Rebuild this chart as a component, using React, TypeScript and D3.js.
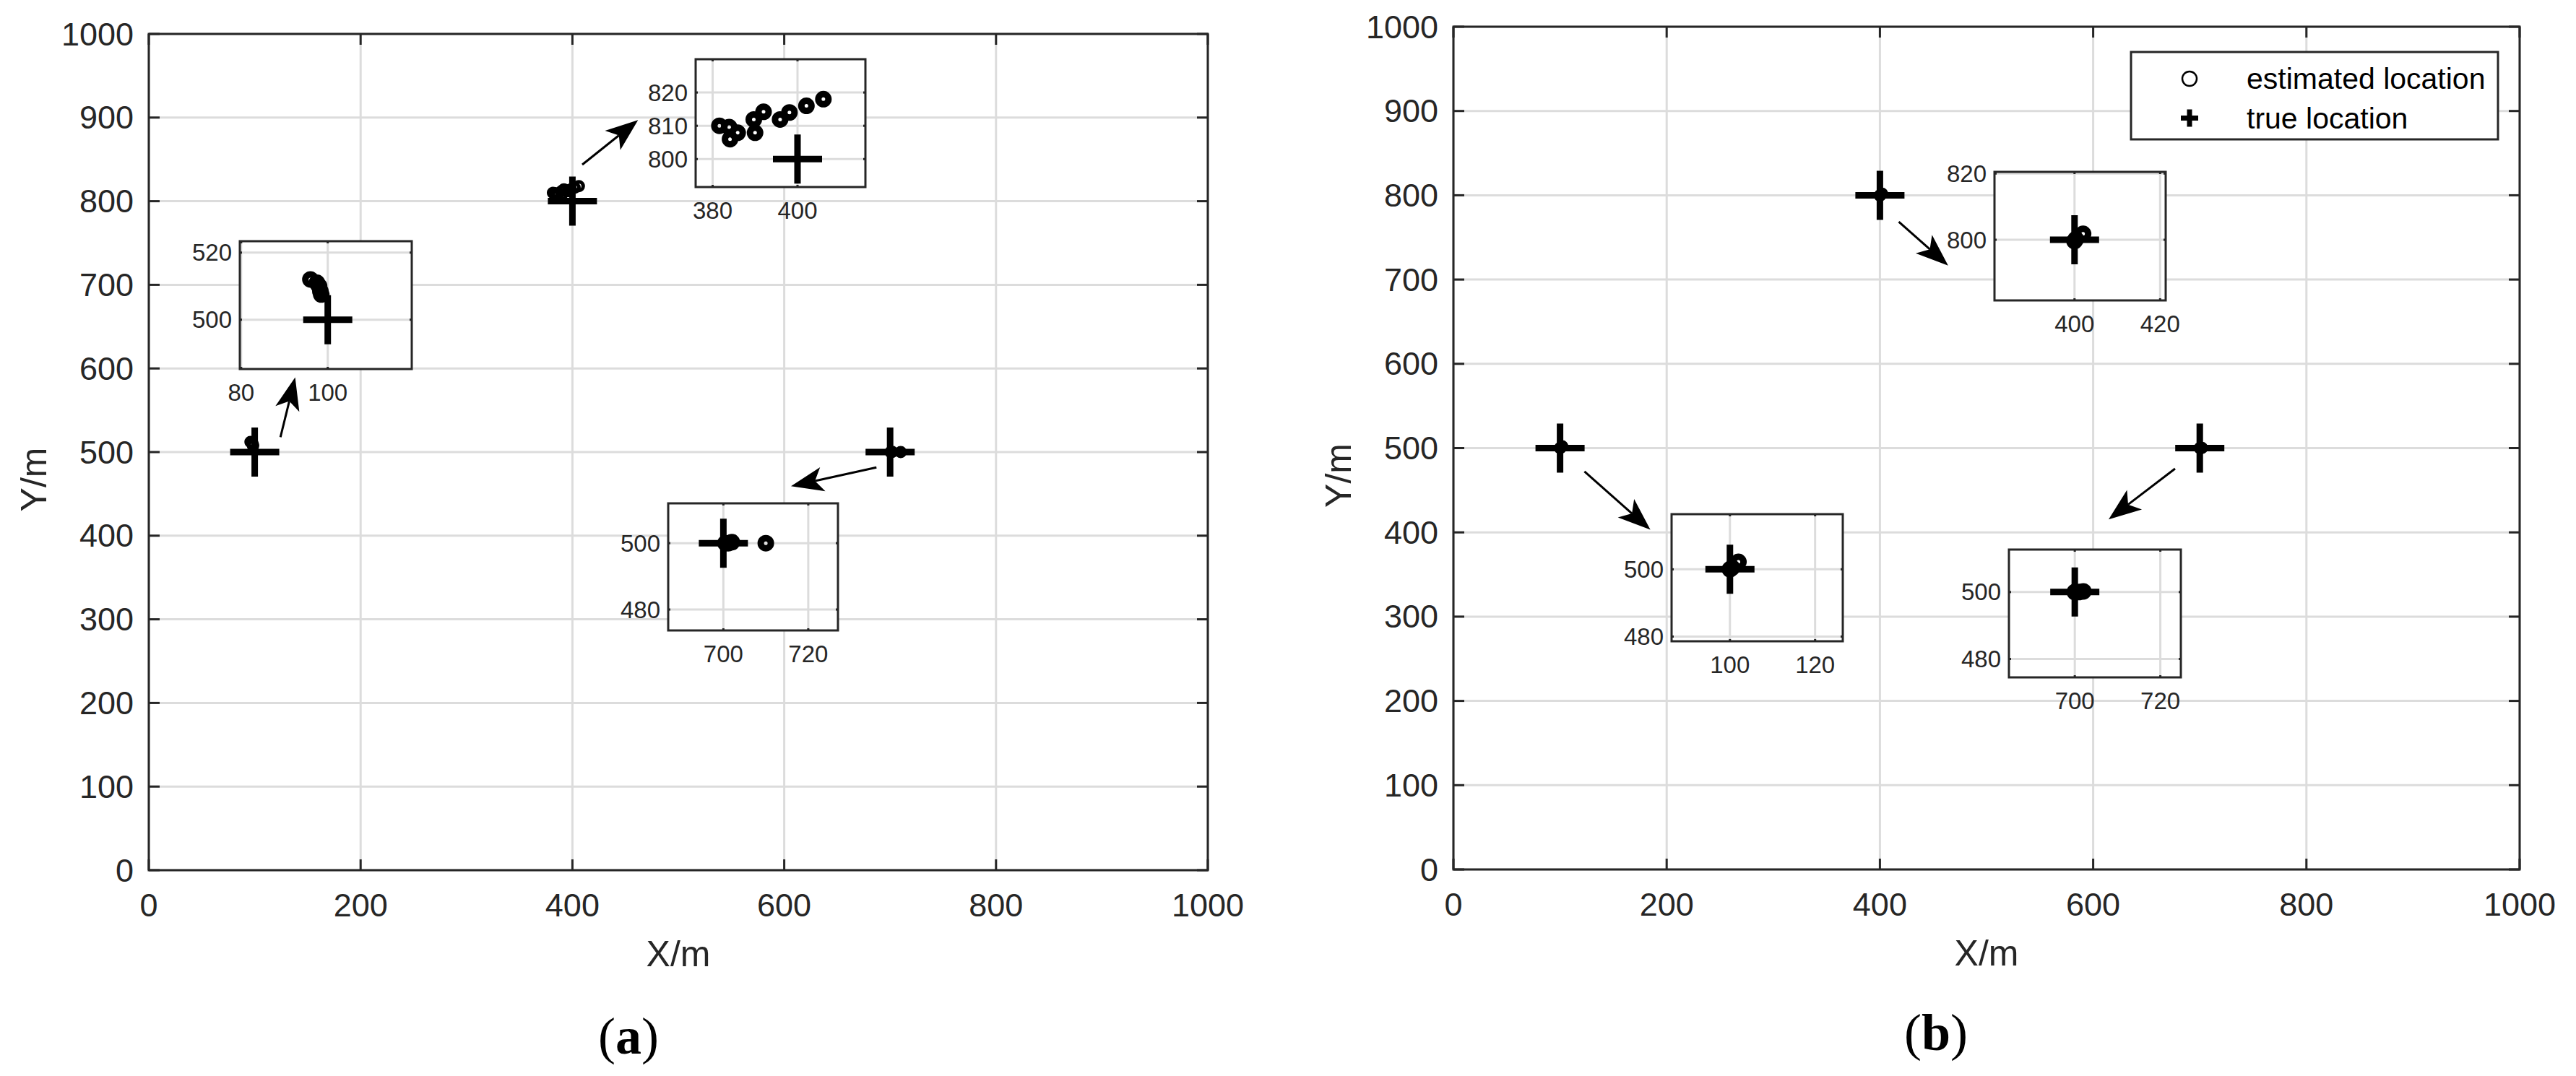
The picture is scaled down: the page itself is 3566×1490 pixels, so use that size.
import React, { useEffect, useRef } from 'react';
import * as d3 from 'd3';

const W = 3566;
const H = 1490;

// true source locations
const trueX = [100, 400, 700];
const trueY = [500, 800, 500];

// estimated locations, panel (a)
const estA1 = [[96, 512], [97.5, 511], [98, 510], [98.3, 508.5], [98.5, 507.5]];
const estA2 = [[381.6, 810], [383.9, 809.6], [384.1, 806], [385.9, 807.9], [390, 807.9], [389.7, 811.9], [392, 814.2], [395.9, 811.9], [398.1, 814], [402.1, 816], [406.1, 818]];
const estA3 = [[700.5, 500], [701.2, 500], [702, 500.3], [710, 500]];

// estimated locations, panel (b)
const estB1 = [[100, 500], [100.5, 500.5], [102, 502.2]];
const estB2 = [[400, 799.6], [400.3, 800.2], [402, 801.8]];
const estB3 = [[700, 500], [701, 500], [702, 500.2]];

// main axes ticks
const mainXTicks = [0, 200, 400, 600, 800, 1000];
const mainYTicks = [0, 100, 200, 300, 400, 500, 600, 700, 800, 900, 1000];

// zoomed inset limits and ticks
const insetA1 = { xDom: [376, 416], yDom: [791.6, 830], xt: [380, 400], yt: [800, 810, 820] };
const insetA2 = { xDom: [79.7, 119.4], yDom: [485.3, 523.4], xt: [80, 100], yt: [500, 520] };
const insetA3 = { xDom: [687, 727], yDom: [473.7, 512], xt: [700, 720], yt: [480, 500] };
const insetB1 = { xDom: [381.3, 421.3], yDom: [781.7, 820.5], xt: [400, 420], yt: [800, 820] };
const insetB2 = { xDom: [86.3, 126.5], yDom: [478.6, 516.4], xt: [100, 120], yt: [480, 500] };
const insetB3 = { xDom: [684.6, 724.8], yDom: [474.5, 512.7], xt: [700, 720], yt: [480, 500] };

// arrows, [x0, y0, x1, y1] in main-axes data units
const arrowsA = [[124.3, 517.9, 138.2, 589.3], [409.3, 843.7, 462, 897], [687.1, 481.6, 606.4, 459.1]];
const arrowsB = [[122.9, 472.2, 184.7, 403.1], [417.7, 768.6, 464, 716.5], [676.8, 475.6, 614.5, 415.3]];

const legendLabels = ['estimated location', 'true location'];

const AX = '#262626';
const GRID = '#dcdcdc';
const FONT = '"Liberation Sans", Arial, Helvetica, sans-serif';

function drawAxes(g, x, y, xTicks, yTicks, o) {
  const [x0, x1] = x.range();
  const [yb, yt] = y.range();
  g.append('rect').attr('x', x0).attr('y', yt).attr('width', x1 - x0).attr('height', yb - yt).attr('fill', '#fff');
  g.selectAll(null).data(xTicks).join('line')
    .attr('x1', d => x(d)).attr('x2', d => x(d)).attr('y1', yt).attr('y2', yb)
    .attr('stroke', GRID).attr('stroke-width', 3);
  g.selectAll(null).data(yTicks).join('line')
    .attr('x1', x0).attr('x2', x1).attr('y1', d => y(d)).attr('y2', d => y(d))
    .attr('stroke', GRID).attr('stroke-width', 3);

  const tl = o.tickLen;
  const tk = g.append('g').attr('stroke', AX).attr('stroke-width', 3);
  xTicks.forEach(d => {
    tk.append('line').attr('x1', x(d)).attr('x2', x(d)).attr('y1', yb).attr('y2', yb - tl);
    tk.append('line').attr('x1', x(d)).attr('x2', x(d)).attr('y1', yt).attr('y2', yt + tl);
  });
  yTicks.forEach(d => {
    tk.append('line').attr('x1', x0).attr('x2', x0 + tl).attr('y1', y(d)).attr('y2', y(d));
    tk.append('line').attr('x1', x1).attr('x2', x1 - tl).attr('y1', y(d)).attr('y2', y(d));
  });

  g.selectAll(null).data(xTicks).join('text')
    .attr('x', d => x(d)).attr('y', yb + o.xLabOff)
    .attr('text-anchor', 'middle').attr('dominant-baseline', 'central')
    .attr('font-family', FONT).attr('font-size', o.fs).attr('fill', AX)
    .text(d => d);
  g.selectAll(null).data(yTicks).join('text')
    .attr('x', x0 - o.yLabOff).attr('y', d => y(d))
    .attr('text-anchor', 'end').attr('dominant-baseline', 'central')
    .attr('font-family', FONT).attr('font-size', o.fs).attr('fill', AX)
    .text(d => d);
}

function drawMarks(g, x, y, est, tx, ty, o) {
  g.selectAll(null).data(est).join('circle')
    .attr('cx', d => x(d[0])).attr('cy', d => y(d[1])).attr('r', o.r)
    .attr('fill', 'none').attr('stroke', '#000').attr('stroke-width', o.sw);
  const s = 34;
  g.selectAll(null).data(tx).join('path')
    .attr('d', (d, i) => `M${x(d) - s},${y(ty[i])}H${x(d) + s}M${x(d)},${y(ty[i]) - s}V${y(ty[i]) + s}`)
    .attr('stroke', '#000').attr('stroke-width', 9).attr('fill', 'none');
}

function drawBox(g, x, y) {
  const [x0, x1] = x.range();
  const [yb, yt] = y.range();
  g.append('rect').attr('x', x0).attr('y', yt).attr('width', x1 - x0).attr('height', yb - yt)
    .attr('fill', 'none').attr('stroke', AX).attr('stroke-width', 3);
}

function drawArrow(g, x, y, a) {
  const px0 = x(a[0]), py0 = y(a[1]), px1 = x(a[2]), py1 = y(a[3]);
  const ang = Math.atan2(py1 - py0, px1 - px0);
  const ux = Math.cos(ang), uy = Math.sin(ang);
  const nx = -uy, ny = ux;
  const hl = 45, hw = 17, notch = 34;
  g.append('line').attr('x1', px0).attr('y1', py0)
    .attr('x2', px1 - ux * notch).attr('y2', py1 - uy * notch)
    .attr('stroke', '#000').attr('stroke-width', 3);
  const pts = [
    [px1, py1],
    [px1 - ux * hl + nx * hw, py1 - uy * hl + ny * hw],
    [px1 - ux * notch, py1 - uy * notch],
    [px1 - ux * hl - nx * hw, py1 - uy * hl - ny * hw],
  ];
  g.append('path').attr('d', 'M' + pts.map(p => p.join(',')).join('L') + 'Z').attr('fill', '#000');
}

function drawPanel(svg, rect, est, insets, arrows, caption, capPos) {
  const g = svg.append('g');
  const x = d3.scaleLinear().domain([0, 1000]).range([rect.x, rect.x + rect.w]);
  const y = d3.scaleLinear().domain([0, 1000]).range([rect.y + rect.h, rect.y]);
  drawAxes(g, x, y, mainXTicks, mainYTicks, { tickLen: 15, fs: 45, xLabOff: 48, yLabOff: 21 });
  est.forEach((e, i) => drawMarks(g, x, y, e, [trueX[i]], [trueY[i]], { r: 6, sw: 5 }));
  drawBox(g, x, y);

  g.append('text').attr('x', rect.x + rect.w / 2).attr('y', rect.y + rect.h + 116)
    .attr('text-anchor', 'middle').attr('dominant-baseline', 'central')
    .attr('font-family', FONT).attr('font-size', 50).attr('fill', AX).text('X/m');
  g.append('text').attr('transform', `translate(${rect.x - 159},${rect.y + rect.h / 2 + 38}) rotate(-90)`)
    .attr('text-anchor', 'middle').attr('dominant-baseline', 'central')
    .attr('font-family', FONT).attr('font-size', 50).attr('fill', AX).text('Y/m');

  insets.forEach((ins, i) => {
    const sp = ins.spec;
    const ix = d3.scaleLinear().domain(sp.xDom).range([ins.x, ins.x + ins.w]);
    const iy = d3.scaleLinear().domain(sp.yDom).range([ins.y + ins.h, ins.y]);
    const ig = g.append('g');
    drawAxes(ig, ix, iy, sp.xt, sp.yt, { tickLen: 3, fs: 33, xLabOff: 32, yLabOff: 11 });
    drawMarks(ig, ix, iy, est[i], [trueX[i]], [trueY[i]], { r: 7, sw: 9 });
    drawBox(ig, ix, iy);
  });

  arrows.forEach(a => drawArrow(g, x, y, a));

  const cap = g.append('text').attr('x', capPos[0]).attr('y', capPos[1])
    .attr('text-anchor', 'middle').attr('dominant-baseline', 'central')
    .attr('font-family', '"Liberation Serif", "Times New Roman", serif').attr('font-size', 72).attr('fill', '#000');
  cap.append('tspan').text('(');
  cap.append('tspan').attr('font-weight', 'bold').text(caption);
  cap.append('tspan').text(')');
  return { x, y };
}

export default function App() {
  const ref = useRef(null);

  useEffect(() => {
    const svg = d3.select(ref.current);
    svg.selectAll('*').remove();
    svg.append('rect').attr('width', W).attr('height', H).attr('fill', '#fff');

    drawPanel(svg, { x: 206, y: 47, w: 1466, h: 1158 }, [estA1, estA2, estA3], [
      { spec: insetA2, x: 332, y: 334, w: 238, h: 177 },
      { spec: insetA1, x: 963, y: 82, w: 235, h: 177 },
      { spec: insetA3, x: 925, y: 697, w: 235, h: 176 },
    ], arrowsA, 'a', [870, 1435]);

    drawPanel(svg, { x: 2012, y: 37, w: 1476, h: 1167 }, [estB1, estB2, estB3], [
      { spec: insetB2, x: 2314, y: 712, w: 237, h: 176 },
      { spec: insetB1, x: 2761, y: 238, w: 237, h: 178 },
      { spec: insetB3, x: 2781, y: 761, w: 238, h: 177 },
    ], arrowsB, 'b', [2680, 1430]);

    // legend in panel (b)
    const lg = svg.append('g');
    lg.append('rect').attr('x', 2950).attr('y', 72).attr('width', 508).attr('height', 121)
      .attr('fill', '#fff').attr('stroke', AX).attr('stroke-width', 3);
    lg.append('circle').attr('cx', 3031).attr('cy', 109).attr('r', 10)
      .attr('fill', 'none').attr('stroke', '#000').attr('stroke-width', 2.5);
    lg.append('path').attr('d', 'M3019,163.5H3043M3031,151.5V175.5')
      .attr('stroke', '#000').attr('stroke-width', 7);
    lg.selectAll(null).data(legendLabels).join('text')
      .attr('x', 3110).attr('y', (d, i) => 109 + i * 54.5)
      .attr('dominant-baseline', 'central')
      .attr('font-family', FONT).attr('font-size', 41).attr('fill', '#000')
      .text(d => d);
  }, []);

  return (
    <svg ref={ref} width={W} height={H} style={{ position: 'absolute', left: 0, top: 0, background: '#fff' }} />
  );
}
